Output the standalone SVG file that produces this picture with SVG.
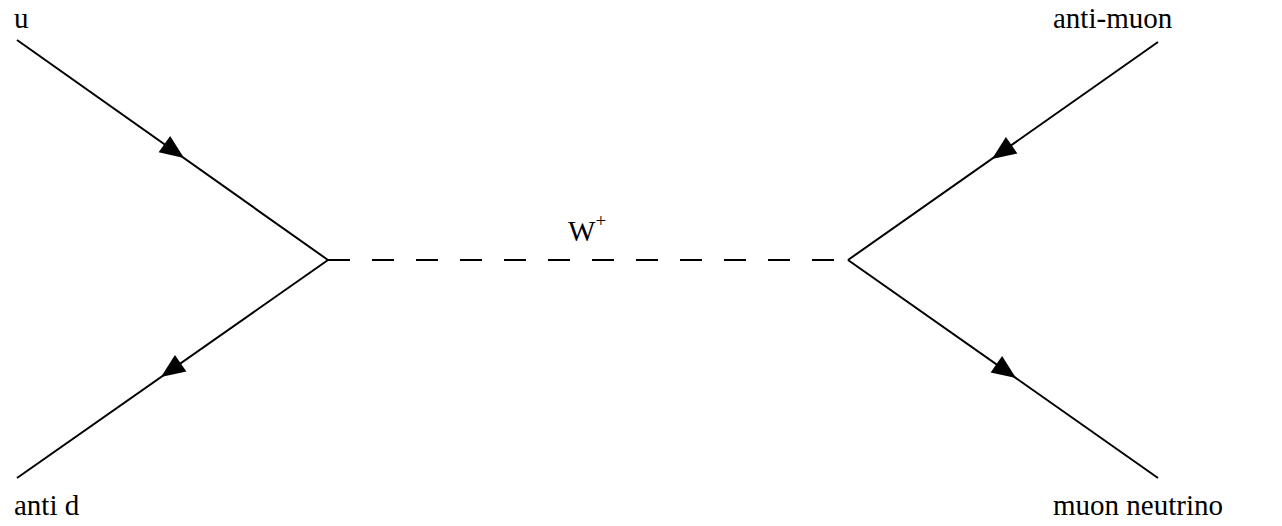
<svg xmlns="http://www.w3.org/2000/svg" width="1282" height="526" viewBox="0 0 1282 526">
<style>
.l{stroke:#000;stroke-width:2;fill:none}
.d{stroke:#000;stroke-width:2;stroke-dasharray:22 22}
.t{font-family:"Liberation Serif",serif;font-size:29px;fill:#000}
.a{fill:#000}
</style>
<defs><polygon id="ah" points="0,0 -24,-10 -24,10"/></defs>
<rect width="1282" height="526" fill="#fff"/>
<g id="connectors">
<line class="l" x1="17" y1="40" x2="328" y2="260"/>
<line class="l" x1="17" y1="478" x2="328" y2="260"/>
<line class="l" x1="848" y1="260" x2="1158" y2="42"/>
<line class="l" x1="848" y1="260" x2="1158" y2="478"/>
<line class="d" x1="328" y1="260" x2="848" y2="260"/>
<use href="#ah" class="a" transform="translate(184,158) rotate(35.3)"/>
<use href="#ah" class="a" transform="translate(161,377) rotate(145)"/>
<use href="#ah" class="a" transform="translate(992,159) rotate(144.9)"/>
<use href="#ah" class="a" transform="translate(1016,378) rotate(35.1)"/>
</g>
<g id="u"><text class="t" x="14" y="28">u</text></g>
<g id="antid"><text class="t" x="14" y="515">anti d</text></g>
<g id="antimuon"><text class="t" x="1053" y="28">anti-muon</text></g>
<g id="neutrino"><text class="t" x="1053" y="515">muon neutrino</text></g>
<g id="W"><text class="t" x="568" y="241">W<tspan font-size="19" dy="-14">+</tspan></text></g>
</svg>
